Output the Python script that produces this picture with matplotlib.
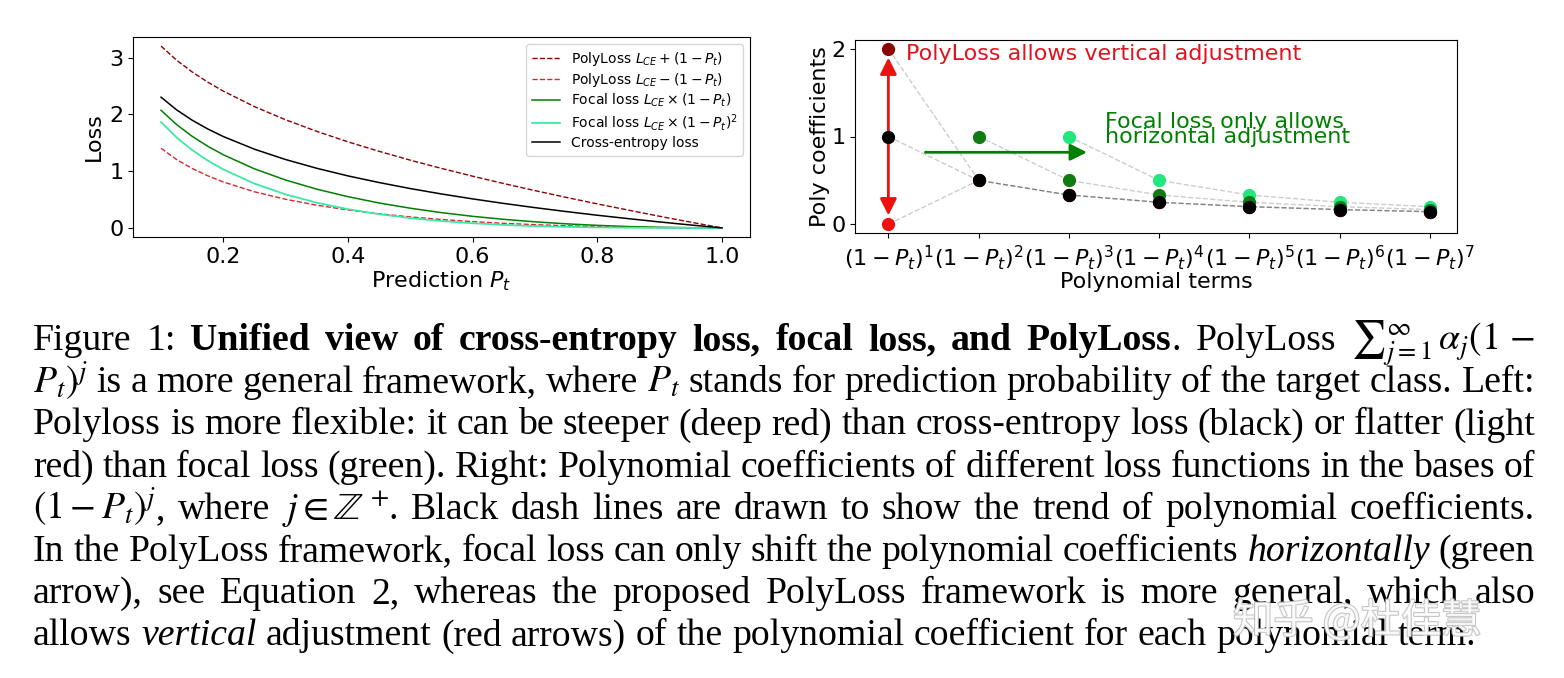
import matplotlib
matplotlib.use("Agg")
import matplotlib.pyplot as plt
from matplotlib import patheffects

# ---------------- data: left panel (loss curves) ----------------
pred = [0.10, 0.125, 0.15, 0.175, 0.20, 0.25, 0.30, 0.35, 0.40, 0.45, 0.50,
        0.55, 0.60, 0.65, 0.70, 0.75, 0.80, 0.85, 0.90, 0.95, 1.00]
poly_plus = [3.203, 2.954, 2.747, 2.568, 2.409, 2.136, 1.904, 1.700, 1.516, 1.349, 1.193,
             1.048, 0.911, 0.781, 0.657, 0.538, 0.423, 0.313, 0.205, 0.101, 0.0]
poly_minus = [1.403, 1.204, 1.047, 0.918, 0.809, 0.636, 0.504, 0.400, 0.316, 0.249, 0.193,
              0.148, 0.111, 0.081, 0.057, 0.038, 0.023, 0.013, 0.005, 0.001, 0.0]
focal_1 = [2.072, 1.820, 1.613, 1.438, 1.288, 1.040, 0.843, 0.682, 0.550, 0.439, 0.347,
           0.269, 0.204, 0.151, 0.107, 0.072, 0.045, 0.024, 0.011, 0.003, 0.0]
focal_2 = [1.865, 1.592, 1.371, 1.186, 1.030, 0.780, 0.590, 0.444, 0.330, 0.242, 0.173,
           0.121, 0.082, 0.053, 0.032, 0.018, 0.009, 0.004, 0.001, 0.000, 0.0]
cross_entropy = [2.303, 2.079, 1.897, 1.743, 1.609, 1.386, 1.204, 1.050, 0.916, 0.799, 0.693,
                 0.598, 0.511, 0.431, 0.357, 0.288, 0.223, 0.163, 0.105, 0.051, 0.0]
curve_labels = [r'PolyLoss $L_{CE} + (1 - P_t)$', r'PolyLoss $L_{CE} - (1 - P_t)$',
                r'Focal loss $L_{CE} \times (1 - P_t)$', r'Focal loss $L_{CE} \times (1 - P_t)^2$',
                'Cross-entropy loss']
left_xticks = [0.2, 0.4, 0.6, 0.8, 1.0]
left_yticks = [0, 1, 2, 3]

# ---------------- data: right panel (polynomial coefficients) ----------------
terms = [1, 2, 3, 4, 5, 6, 7]
ce_coef = [1.0, 0.5, 0.333, 0.25, 0.2, 0.167, 0.143]
poly_plus_coef = [2.0, 0.5, 0.333, 0.25, 0.2, 0.167, 0.143]
poly_minus_coef = [0.0, 0.5, 0.333, 0.25, 0.2, 0.167, 0.143]
focal1_terms = [2, 3, 4, 5, 6, 7]
focal1_coef = [1.0, 0.5, 0.333, 0.25, 0.2, 0.167]
focal2_terms = [3, 4, 5, 6, 7]
focal2_coef = [1.0, 0.5, 0.333, 0.25, 0.2]
term_labels = [r'$(1-P_t)^{%d}$' % j for j in terms]
right_yticks = [0, 1, 2]

# ---------------- caption ----------------
caption_lines = [
    r'Figure 1: **Unified view of cross-entropy loss, focal loss, and PolyLoss**. PolyLoss ${\sum}_{j=1}^{\infty}\,\alpha_j(1\,-$',
    r'$P_t)^j$ is a more general framework, where $P_t$ stands for prediction probability of the target class. Left:',
    r'Polyloss is more flexible: it can be steeper (deep red) than cross-entropy loss (black) or flatter (light',
    r'red) than focal loss (green). Right: Polynomial coefficients of different loss functions in the bases of',
    r'$(1-P_t)^j$, where $j\in\mathbb{Z}^+$. Black dash lines are drawn to show the trend of polynomial coefficients.',
    r'In the PolyLoss framework, focal loss can only shift the polynomial coefficients *horizontally* (green',
    r'arrow), see Equation 2, whereas the proposed PolyLoss framework is more general, which also',
    r'allows *vertical* adjustment (red arrows) of the polynomial coefficient for each polynomial term.',
]

W, H, DPI = 1564, 678, 100
fig = plt.figure(figsize=(W / DPI, H / DPI), dpi=DPI)
fig.patch.set_facecolor('white')


def box(l, t, r, b):
    return [l / W, 1 - b / H, (r - l) / W, (b - t) / H]


# ---------------- left panel ----------------
ax1 = fig.add_axes(box(133, 37, 750, 237))
ax1.plot(pred, poly_plus, ls='--', color='#8B0000', lw=1.0, label=curve_labels[0])
ax1.plot(pred, poly_minus, ls='--', color='#E0262C', lw=1.0, label=curve_labels[1])
ax1.plot(pred, focal_1, ls='-', color='green', lw=1.1, label=curve_labels[2])
ax1.plot(pred, focal_2, ls='-', color='#3DE8A5', lw=1.3, label=curve_labels[3])
ax1.plot(pred, cross_entropy, ls='-', color='black', lw=1.1, label=curve_labels[4])
ax1.set_xticks(left_xticks)
ax1.set_yticks(left_yticks)
ax1.tick_params(labelsize=16)
ax1.set_xlabel(r'Prediction $P_t$', fontsize=16, labelpad=2)
ax1.set_ylabel('Loss', fontsize=16, labelpad=4)
ax1.legend(loc='upper right', fontsize=10, labelspacing=0.22)

# ---------------- right panel ----------------
ax2 = fig.add_axes(box(855, 40, 1457, 233))
dash_kw = dict(ls='--', color='black', alpha=0.2, lw=1.0, zorder=1)
ax2.plot(terms, poly_plus_coef, **dash_kw)
ax2.plot(terms, poly_minus_coef, **dash_kw)
ax2.plot(terms, ce_coef, **dash_kw)
ax2.plot(focal1_terms, focal1_coef, **dash_kw)
ax2.plot(focal2_terms, focal2_coef, **dash_kw)
ms = 8.5
ax2.plot(terms, poly_plus_coef, 'o', color='#8B0000', ms=ms, zorder=3)
ax2.plot(terms, poly_minus_coef, 'o', color='#EE1111', ms=ms, zorder=3)
ax2.plot(focal2_terms, focal2_coef, 'o', color='#22E67E', ms=ms, zorder=3)
ax2.plot(focal1_terms, focal1_coef, 'o', color='#117A11', ms=ms, zorder=3)
ax2.plot(terms, ce_coef, 'o', color='black', ms=ms, zorder=4)

arrow_red = dict(arrowstyle='-|>', color='#EE1111', lw=2.0, mutation_scale=25,
                 shrinkA=0, shrinkB=0)
ax2.annotate('', xy=(1, 1.9), xytext=(1, 1.0), arrowprops=arrow_red, zorder=2)
ax2.annotate('', xy=(1, 0.1), xytext=(1, 1.0), arrowprops=arrow_red, zorder=2)
arrow_green = dict(arrowstyle='-|>', color='green', lw=2.0, mutation_scale=25,
                   shrinkA=0, shrinkB=0)
ax2.annotate('', xy=(3.2, 0.82), xytext=(1.41, 0.82), arrowprops=arrow_green, zorder=2)
ax2.text(1.2, 1.94, 'PolyLoss allows vertical adjustment', color='#E0141E',
         fontsize=16, va='center', ha='left')
ax2.text(3.4, 1.08, 'Focal loss only allows\nhorizontal adjustment', color='green',
         fontsize=16, va='center', ha='left', linespacing=0.68)
ax2.set_xlim(0.63, 7.3)
ax2.set_ylim(-0.1, 2.1)
ax2.set_xticks(terms)
ax2.set_xticklabels(term_labels)
ax2.set_yticks(right_yticks)
ax2.tick_params(labelsize=16)
ax2.set_xlabel('Polynomial terms', fontsize=16, labelpad=0)
ax2.set_ylabel('Poly coefficients', fontsize=16, labelpad=1)

# ---------------- caption layout (justified) ----------------
renderer = fig.canvas.get_renderer()
LEFT, RIGHT = 33, 1535
LAST_RIGHT = 1475
BASE0, STEP = 350, 42.2


def parse(line):
    tokens, cur = [], []
    state = {'buf': '', 'style': 'n'}

    def flush():
        if state['buf']:
            cur.append((state['buf'], state['style']))
            state['buf'] = ''

    i = 0
    while i < len(line):
        if line.startswith('**', i):
            flush()
            state['style'] = 'n' if state['style'] == 'b' else 'b'
            i += 2
            continue
        c = line[i]
        if c == '*':
            flush()
            state['style'] = 'n' if state['style'] == 'i' else 'i'
            i += 1
            continue
        if c == '$':
            j = line.index('$', i + 1)
            flush()
            cur.append((line[i:j + 1], 'm'))
            i = j + 1
            continue
        if c == ' ':
            flush()
            if cur:
                tokens.append(cur)
                cur = []
            i += 1
            continue
        state['buf'] += c
        i += 1
    flush()
    if cur:
        tokens.append(cur)
    return tokens


def make_piece(piece, size):
    text, st = piece
    kw = dict(fontsize=size, family='Liberation Serif', math_fontfamily='stix',
              va='baseline', ha='left', color='black')
    if st == 'b':
        kw['fontweight'] = 'bold'
    if st == 'i':
        kw['fontstyle'] = 'italic'
    return fig.text(0, 0, text, **kw)


def width_of(t):
    return t.get_window_extent(renderer).width


parsed = [parse(l) for l in caption_lines]
px_per_pt = DPI / 72.0

# font size chosen so the (unjustified) last line has the reference's width
trial = 20.0
last = parsed[-1]
tmp = [make_piece(p, trial) for tok in last for p in tok]
total = sum(width_of(t) for t in tmp)
for t in tmp:
    t.remove()
natural = total + (len(last) - 1) * 0.25 * trial * px_per_pt
size = trial * (LAST_RIGHT - LEFT) / natural

space_px = 0.25 * size * px_per_pt
for li, toks in enumerate(parsed):
    baseline = BASE0 + STEP * li
    objs = []
    widths = []
    for tok in toks:
        pieces = [make_piece(p, size) for p in tok]
        w = [width_of(t) for t in pieces]
        objs.append((pieces, w))
        widths.append(sum(w))
    justified = li < len(parsed) - 1
    if justified and len(toks) > 1:
        gap = (RIGHT - LEFT - sum(widths)) / (len(toks) - 1)
    else:
        gap = space_px
    x = LEFT
    for (pieces, w), tw in zip(objs, widths):
        xx = x
        for t, pw in zip(pieces, w):
            t.set_position((xx / W, 1 - baseline / H))
            xx += pw
        x += tw + gap

# watermark overlay
fig.text(1233 / W, 1 - 633 / H, '知乎 @杜佳慧', fontsize=29,
         family=['Noto Sans CJK SC', 'DejaVu Sans'], color='white', alpha=0.85,
         va='baseline', ha='left',
         path_effects=[patheffects.withStroke(linewidth=1.5, foreground='#BBBBBB')])

fig.savefig('out.png', dpi=DPI, facecolor='white')
